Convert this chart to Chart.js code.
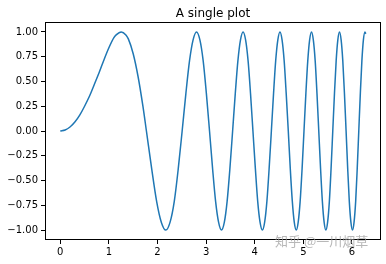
<!DOCTYPE html>
<html>
<head>
  <meta charset="UTF-8">
  <title>A single plot</title>
  <style>
    body { margin: 0; padding: 0; background: #fff; }
    .chart-box { width: 386px; height: 264px; position: relative; }
  </style>
</head>
<body>
<div class="chart-box">
  <canvas id="plot"></canvas>
</div>

<script src="https://cdn.jsdelivr.net/npm/chart.js"></script>
<script>
  // values
  const xs = [0, 0.1, 0.2, 0.3, 0.4, 0.5, 0.6, 0.7, 0.8, 0.9, 1.0, 1.1, 1.15, 1.253, 1.35, 1.4, 1.5, 1.6, 1.7,
    1.772, 1.880, 1.982, 2.078, 2.171, 2.259, 2.345, 2.427,
    2.507, 2.584, 2.659, 2.732, 2.802, 2.872, 2.939, 3.005,
    3.070, 3.133, 3.195, 3.256, 3.316, 3.375, 3.432, 3.489,
    3.545, 3.600, 3.654, 3.707, 3.760, 3.812, 3.863, 3.913,
    3.963, 4.013, 4.061, 4.109, 4.157, 4.204, 4.250, 4.296,
    4.342, 4.387, 4.431, 4.475, 4.519, 4.562, 4.605, 4.647,
    4.690, 4.731, 4.773, 4.813, 4.854, 4.894, 4.934, 4.974,
    5.013, 5.052, 5.091, 5.129, 5.168, 5.205, 5.243, 5.280,
    5.317, 5.354, 5.391, 5.427, 5.463, 5.499, 5.535, 5.570,
    5.605, 5.640, 5.675, 5.709, 5.743, 5.777, 5.811, 5.845,
    5.879, 5.912, 5.945, 5.978, 6.011, 6.043, 6.076, 6.108,
    6.140, 6.172, 6.204, 6.235, 6.267, 6.283];
  const ys = [0, 0.01, 0.04, 0.09, 0.16, 0.25, 0.35, 0.47, 0.59, 0.72, 0.84, 0.94, 0.97, 1.00, 0.97, 0.93, 0.78, 0.55, 0.25,
    0, -0.38, -0.71, -0.92, -1.00, -0.92, -0.71, -0.38,
    0, 0.38, 0.71, 0.92, 1.00, 0.92, 0.71, 0.38,
    0, -0.38, -0.71, -0.92, -1.00, -0.92, -0.71, -0.38,
    0, 0.38, 0.71, 0.92, 1.00, 0.92, 0.71, 0.38,
    0, -0.38, -0.71, -0.92, -1.00, -0.92, -0.71, -0.38,
    0, 0.38, 0.71, 0.92, 1.00, 0.92, 0.71, 0.38,
    0, -0.38, -0.71, -0.92, -1.00, -0.92, -0.71, -0.38,
    0, 0.38, 0.71, 0.92, 1.00, 0.92, 0.71, 0.38,
    0, -0.38, -0.71, -0.92, -1.00, -0.92, -0.71, -0.38,
    0, 0.38, 0.71, 0.92, 1.00, 0.92, 0.71, 0.38,
    0, -0.38, -0.71, -0.92, -1.00, -0.92, -0.71, -0.38,
    0, 0.38, 0.71, 0.92, 1.00, 0.98];
  const xTicks = [0, 1, 2, 3, 4, 5, 6];
  const yTicks = [-1.00, -0.75, -0.50, -0.25, 0.00, 0.25, 0.50, 0.75, 1.00];

  const points = xs.map((x, i) => ({ x: x, y: ys[i] }));

  const framePlugin = {
    id: 'frame',
    afterDraw(chart) {
      const { ctx, chartArea: a } = chart;
      ctx.save();
      ctx.strokeStyle = '#000';
      ctx.lineWidth = 1;
      ctx.strokeRect(a.left + 0.5, a.top + 0.5, a.right - a.left - 1, a.bottom - a.top - 1);
      ctx.fillStyle = '#000';
      ctx.font = '12px "DejaVu Sans"';
      ctx.textAlign = 'center';
      ctx.textBaseline = 'alphabetic';
      ctx.fillText('A single plot', (a.left + a.right) / 2, 17);
      // watermark
      ctx.fillStyle = 'rgba(160,160,160,0.75)';
      ctx.font = '13px "Noto Sans CJK SC"';
      ctx.textAlign = 'left';
      ctx.textBaseline = 'middle';
      ctx.fillText('知乎 @一川烟草', 275, 241);
      ctx.restore();
    }
  };

  new Chart(document.getElementById('plot'), {
    type: 'line',
    data: {
      datasets: [{
        data: points,
        borderColor: '#1f77b4',
        borderWidth: 1.5,
        pointRadius: 0,
        fill: false,
        cubicInterpolationMode: 'monotone'
      }]
    },
    options: {
      responsive: true,
      maintainAspectRatio: false,
      animation: false,
      layout: { padding: { top: 22, right: 5, left: 0, bottom: 0 } },
      plugins: { legend: { display: false }, tooltip: { enabled: false }, title: { display: false } },
      scales: {
        x: {
          type: 'linear',
          min: -0.314,
          max: 6.597,
          afterBuildTicks: s => { s.ticks = xTicks.map(v => ({ value: v })); },
          afterFit: s => { s.height = 24; },
          grid: { drawOnChartArea: false, tickLength: 4, tickColor: '#000' },
          border: { display: false },
          ticks: {
            color: '#000', padding: 2, maxRotation: 0,
            font: { family: 'DejaVu Sans', size: 10 },
            callback: v => String(v)
          }
        },
        y: {
          min: -1.1,
          max: 1.1,
          afterBuildTicks: s => { s.ticks = yTicks.map(v => ({ value: v })); },
          afterFit: s => { s.width = 45; },
          grid: { drawOnChartArea: false, tickLength: 4, tickColor: '#000' },
          border: { display: false },
          ticks: {
            color: '#000', padding: 3,
            font: { family: 'DejaVu Sans', size: 10 },
            callback: v => v.toFixed(2).replace('-', '\u2212')
          }
        }
      }
    },
    plugins: [framePlugin]
  });
</script>
</body>
</html>
